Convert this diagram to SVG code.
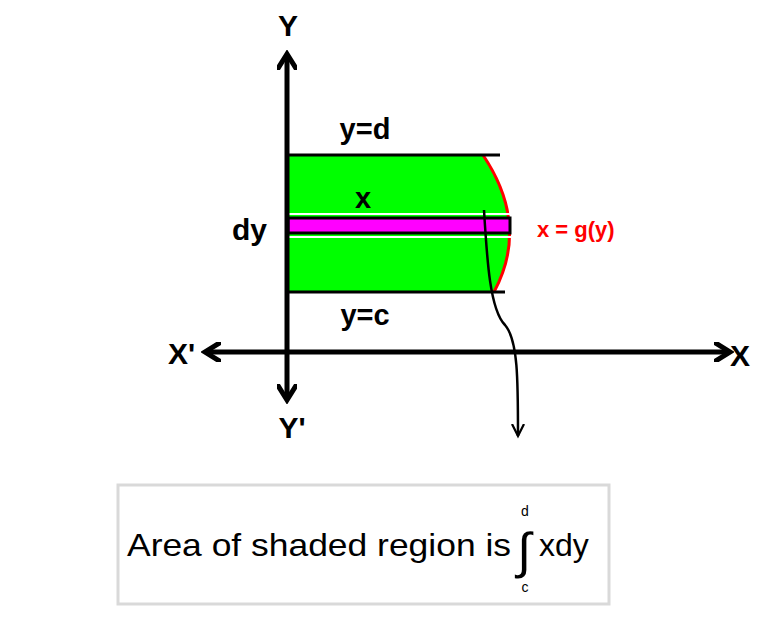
<svg xmlns="http://www.w3.org/2000/svg" width="768" height="619" viewBox="0 0 768 619">
<style>
.b{font-family:"Liberation Sans",Arial,sans-serif;font-weight:bold;fill:#000}
.n{font-family:"Liberation Sans",Arial,sans-serif;fill:#000}
.ax{stroke:#000;stroke-width:5;fill:none}
</style>
<defs>
<marker id="ah" viewBox="0 0 10 10" refX="7" refY="5" markerWidth="4" markerHeight="4" orient="auto-start-reverse"><path d="M0,0 L8,5 L0,10" fill="none" stroke="#000" stroke-width="2.5"/></marker>
<marker id="ah2" viewBox="0 0 10 10" refX="8" refY="5" markerWidth="6" markerHeight="6" orient="auto"><path d="M0,1 L8,5 L0,9" fill="none" stroke="#000" stroke-width="1.5"/></marker>
</defs>
<rect width="768" height="619" fill="#fff"/>
<g id="region">
<path d="M289,155 L483,155 Q530,225 494,292 L289,292 Z" fill="#00ff00"/>
<path d="M483,155 Q530,225 494,292" fill="none" stroke="#ff0000" stroke-width="3"/>
<line x1="287" y1="155" x2="500" y2="155" stroke="#000" stroke-width="3"/>
<line x1="287" y1="292" x2="505" y2="292" stroke="#000" stroke-width="3"/>
</g>
<g id="strip">
<rect x="286" y="214" width="226" height="23" fill="none" stroke="#fff" stroke-width="2"/>
<rect x="288" y="218" width="222" height="15" fill="#ff00ff" stroke="#000" stroke-width="3"/>
</g>
<g id="connectors">
<line class="ax" x1="287" y1="398" x2="287" y2="56" marker-start="url(#ah)" marker-end="url(#ah)"/>
<line class="ax" x1="207" y1="352" x2="728" y2="352" marker-start="url(#ah)" marker-end="url(#ah)"/>
<path d="M484,210 C487,260 490,310 505,325 C518,340 518,380 518,436" fill="none" stroke="#000" stroke-width="2.5" marker-end="url(#ah2)"/>
</g>
<g id="labels">
<text class="b" x="288" y="36" font-size="30" text-anchor="middle">Y</text>
<text class="b" x="292" y="438" font-size="30" text-anchor="middle">Y'</text>
<text class="b" x="168" y="364" font-size="30">X'</text>
<text class="b" x="730" y="366" font-size="30">X</text>
<text class="b" x="365" y="139" font-size="29" text-anchor="middle">y=d</text>
<text class="b" x="365" y="325" font-size="29" text-anchor="middle">y=c</text>
<text class="b" x="363" y="208" font-size="29" text-anchor="middle">x</text>
<text class="b" x="232" y="240" font-size="30">dy</text>
<text class="b" x="537" y="237" font-size="22" style="fill:#ff0000">x = g(y)</text>
</g>
<g id="caption">
<rect x="118" y="485" width="491" height="119" fill="#fff" stroke="#d9d9d9" stroke-width="3"/>
<text class="n" x="127" y="556" font-size="32" textLength="384" lengthAdjust="spacingAndGlyphs">Area of shaded region is</text>
<text class="n" x="525" y="516" font-size="14" text-anchor="middle">d</text>
<text class="n" x="525" y="592" font-size="14" text-anchor="middle">c</text>
<text class="n" x="524" y="568" font-size="50" text-anchor="middle" font-family="DejaVu Sans">∫</text>
<text class="n" x="539" y="556" font-size="32">xdy</text>
</g>
</svg>
